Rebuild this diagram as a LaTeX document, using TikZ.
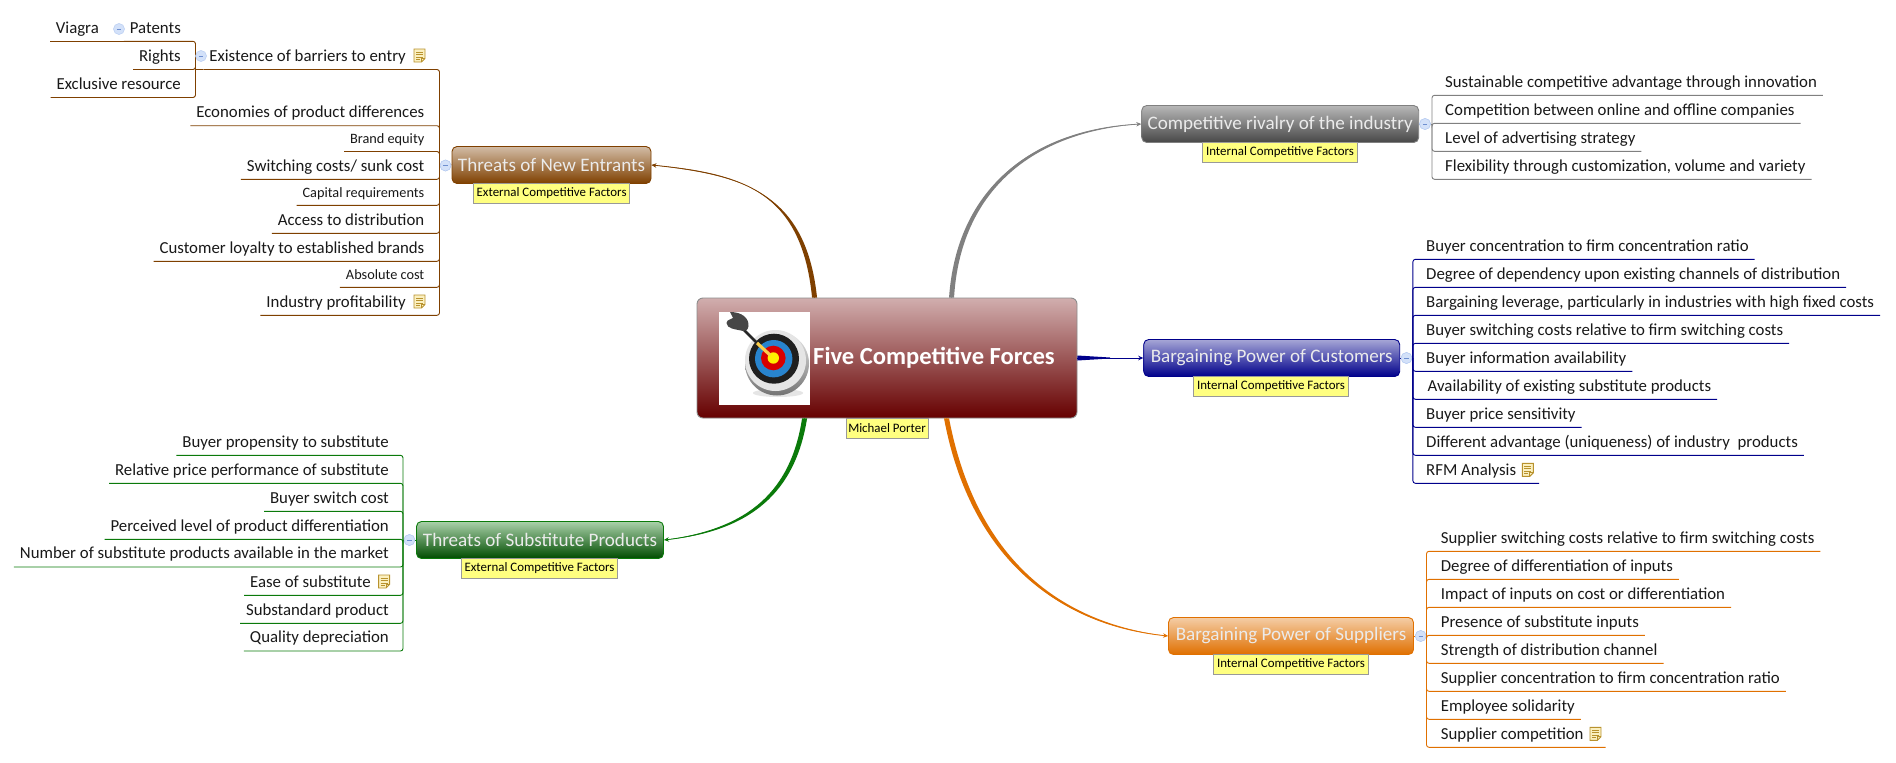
\documentclass[tikz,border=0pt]{standalone}
\usepackage{fontspec}
\setmainfont{Carlito}
\usetikzlibrary{calc,arrows.meta}
\definecolor{cbrown}{HTML}{7F4000}
\definecolor{cgreen}{HTML}{0A7A0A}
\definecolor{cgrey}{HTML}{808080}
\definecolor{cblue}{HTML}{00008B}
\definecolor{corange}{HTML}{E07000}
\definecolor{tagyellow}{HTML}{FFFF80}
\definecolor{coretop}{HTML}{D1AEAE}
\definecolor{corebot}{HTML}{660000}
\definecolor{minfill}{HTML}{D3E1F9}
\definecolor{mindraw}{HTML}{B7CCF2}
\definecolor{minbar}{HTML}{6E8FD0}
\definecolor{notefill}{HTML}{FBF0C0}
\definecolor{notedraw}{HTML}{B8922E}
\newcommand{\fs}[1]{\fontsize{#1}{#1}\selectfont}
\tikzset{
  item/.style={inner xsep=5.8pt,inner ysep=0pt,text height=14pt,text depth=7.9pt,font=\fs{16.8},text=black!90},
  smallitem/.style={font=\fs{14.3}},
  branchbox/.style={rounded corners=5pt,line width=0.9pt,text=white!92!black,font=\fs{19.1},inner sep=0pt},
  tag/.style={draw=black!40,line width=0.7pt,fill=tagyellow,text=black,font=\fs{12.9},inner sep=0pt},
  collapse/.style={circle,inner sep=0pt,minimum size=11pt,fill=minfill,draw=mindraw,line width=0.5pt,
    path picture={\draw[minbar,line width=0.7pt] ([xshift=-2.2pt]path picture bounding box.center) -- ([xshift=2.2pt]path picture bounding box.center);}},
  branchline/.style={line width=0.9pt,rounded corners=2.5pt},
  noteicon/.pic={
    \fill[notefill] (0,0) -- (11,0) -- (11,9.5) -- (7.5,13) -- (0,13) -- cycle;
    \draw[notedraw,line width=0.9pt] (0,0) -- (11,0) -- (11,9.5) -- (7.5,13) -- (0,13) -- cycle;
    \draw[notedraw,line width=0.8pt] (2,3) -- (9,3) (2,5.5) -- (9,5.5) (2,8) -- (9,8) (2,10.5) -- (6,10.5) (7.5,13) -- (7.5,9.5) -- (11,9.5);
  }
}
\newcommand{\itemL}[6][]{%
  \node[item,#1,anchor=south east] (#2) at (#3,#4) {#6};
  \draw[branchline,#5] (#2.south west) -| (hub);}
\newcommand{\itemR}[6][]{%
  \node[item,#1,anchor=south west] (#2) at (#3,#4) {#6};
  \draw[branchline,#5] (#2.south east) -| (hub);}
\begin{document}
\begin{tikzpicture}[x=1pt,y=-1pt]
\useasboundingbox (0,0) rectangle (1896,763);
\fill[white] (0,0) rectangle (1896,763);

% ---------- connectors' end nodes
\node[branchbox,draw=cbrown,top color=cbrown!35!white,bottom color=cbrown,minimum width=199pt,minimum height=37pt] (tn) at (551.5,165) {Threats of New Entrants};
\node[branchbox,draw=cgreen,top color=cgreen!35!white,bottom color=green!30!black,minimum width=247pt,minimum height=37pt] (ts) at (540,540) {Threats of Substitute Products};
\node[branchbox,draw=cgrey,top color=black!28,bottom color=black!72,minimum width=277pt,minimum height=37pt] (cr) at (1280.2,124) {Competitive rivalry of the industry};
\node[branchbox,draw=cblue,top color=cblue!35!white,bottom color=cblue,minimum width=256pt,minimum height=37pt] (bc) at (1271.7,358) {Bargaining Power of Customers};
\node[branchbox,draw=corange,top color=corange!35!white,bottom color=corange,minimum width=245pt,minimum height=37pt] (bs) at (1291,636) {Bargaining Power of Suppliers};

\node[draw=black!45,line width=0.9pt,rounded corners=6pt,top color=coretop,bottom color=corebot,minimum width=380pt,minimum height=120pt,inner sep=0pt] (core) at (887,358) {};
\coordinate (cnw) at ($(core.north west)+(118,0)$);
\coordinate (cne) at ($(core.north west)+(255,0)$);
\coordinate (csw) at ($(core.south west)+(108,0)$);
\coordinate (cse) at ($(core.south west)+(250,0)$);

% ---------- tapered main connectors
\fill[cbrown] ($(cnw)+(-2.5,0)$) .. controls (801.5,190) and (740,173) .. (tn.east) .. controls (741.5,175.5) and (805.5,190) .. ($(cnw)+(2.5,0)$) -- cycle;
\draw[cbrown,line width=0.8pt,-{Stealth[length=5pt,width=4.5pt]}] (cnw) .. controls (803,190) and (740,174) .. (tn.east);
\fill[cgrey] ($(cne)+(-2.5,0)$) .. controls (956.5,190) and (1030,129) .. (cr.west) .. controls (1031.5,131.5) and (960.5,191.5) .. ($(cne)+(2.5,0)$) -- cycle;
\draw[cgrey,line width=0.8pt,-{Stealth[length=5pt,width=4.5pt]}] (cne) .. controls (958,190) and (1030,130) .. (cr.west);
\fill[cgreen] ($(csw)+(-2.5,0)$) .. controls (791,490) and (750,529) .. (ts.east) .. controls (751.5,532) and (795.5,491.5) .. ($(csw)+(2.5,0)$) -- cycle;
\draw[cgreen,line width=0.8pt,-{Stealth[length=5pt,width=4.5pt]}] (csw) .. controls (793,490) and (750,530) .. (ts.east);
\fill[corange] ($(cse)+(-2.5,0)$) .. controls (970.5,560) and (1060,626) .. (bs.west) .. controls (1060,623.5) and (976,558.5) .. ($(cse)+(2.5,0)$) -- cycle;
\draw[corange,line width=0.8pt,-{Stealth[length=5pt,width=4.5pt]}] (cse) .. controls (973,560) and (1060,625) .. (bs.west);
\fill[cblue] ($(core.east)+(0,-2.5)$) -- (1110,357.5) -- (1110,358.5) -- ($(core.east)+(0,2.5)$) -- cycle;
\draw[cblue,line width=0.8pt,-{Stealth[length=5pt,width=4.5pt]}] (core.east) -- (bc.west);

% ---------- central topic
\node[draw=none,fill=white,minimum width=91pt,minimum height=93pt,inner sep=0pt] (img) at (764.5,358.5) {};
\fill[black!10] (778,393) ellipse (25 and 4);
\shade[top color=black!8,bottom color=black!55] (777,363.5) circle (32);
\fill[black!10] (775.5,360.5) circle (30.5);
\fill[black!88] (774,358.7) circle (25);
\fill[cyan!60!blue!90] (773.7,358.7) circle (18.7);
\fill[red!85!black] (773.3,358) circle (12.3);
\fill[yellow] (773.3,358) circle (5.7);
\draw[black!85,line width=2.8pt] (743,329) -- (757,343);
\draw[yellow!50!orange!70!white,line width=3.2pt] (757,343) -- (770,355);
\fill[black!72] (730,312) .. controls (742,312) and (749,318) .. (748.5,326) .. controls (748,330) and (746,331) .. (743,331) .. controls (735,329) and (727,329) .. (726.5,323) .. controls (727,319) and (731,320) .. (733,318) -- cycle;
\node[text=white,font=\fs{24.6}\bfseries,inner sep=0pt,anchor=west] (title) at (813,358) {Five Competitive Forces};
\node[tag,minimum width=82pt,minimum height=19.5pt] (tagcore) at (887,428.5) {Michael Porter};

% ---------- tags
\node[tag,minimum width=155.8pt,minimum height=20pt] (tag1) at (551.6,193.5) {External Competitive Factors};
\node[tag,minimum width=155.8pt,minimum height=20pt] (tag2) at (539.5,568.3) {External Competitive Factors};
\node[tag,minimum width=155.3pt,minimum height=20pt] (tag3) at (1280,152.3) {Internal Competitive Factors};
\node[tag,minimum width=155pt,minimum height=20pt] (tag4) at (1271,386.3) {Internal Competitive Factors};
\node[tag,minimum width=155pt,minimum height=20pt] (tag5) at (1291,664.3) {Internal Competitive Factors};

% ---------- Threats of New Entrants
\coordinate (hub) at (439.5,165.5);
\node[collapse] (m1) at (445.5,165.5) {};
\draw[cbrown,line width=0.9pt] (hub) -- (m1) -- (tn.west);
\node[collapse] at (445.5,165.5) {};
\itemL{ex}{411.8}{69.5}{cbrown}{Existence of barriers to entry}
\itemL{ec}{430.3}{125.7}{cbrown}{Economies of product differences}
\itemL[smallitem]{be}{430.3}{151.5}{cbrown}{Brand equity}
\itemL{sw}{430.3}{179.3}{cbrown}{Switching costs/ sunk cost}
\itemL[smallitem]{ca}{430.3}{205.3}{cbrown}{Capital requirements}
\itemL{ac}{430.3}{233.3}{cbrown}{Access to distribution}
\itemL{cu}{430.3}{261.3}{cbrown}{Customer loyalty to established brands}
\itemL[smallitem]{ab}{430.3}{287.3}{cbrown}{Absolute cost}
\itemL{ip}{411.8}{315.3}{cbrown}{Industry profitability}
\pic at (414,49) {noteicon};
\pic at (414,295) {noteicon};
% sub-branch: barriers
\coordinate (hub) at (195.5,56);
\draw[cbrown,line width=0.9pt] (ex.south west) -- (ex.south west -| hub);
\itemL{ra}{186.8}{69.5}{cbrown}{Rights}
\itemL{er}{186.8}{97.5}{cbrown}{Exclusive resource}
\itemL{pa}{186.8}{41.3}{cbrown}{Patents}
\node[collapse] (m2) at (201,56) {};
\coordinate (hub) at (pa.south west);
\node[collapse] (m3) at (119,29) {};
\node[item,anchor=south east] (vi) at (104.8,41.3) {Viagra};
\coordinate (viend) at (50,41.3);
\draw[cbrown,line width=0.9pt] (hub) -- (viend);

% ---------- Threats of Substitute Products
\coordinate (hub) at (403,540);
\node[collapse] (m4) at (409.4,540) {};
\draw[cgreen,line width=0.9pt] (hub) -- (m4) -- (ts.west);
\node[collapse] at (409.4,540) {};
\itemL{s1}{394.8}{455.3}{cgreen}{Buyer propensity to substitute}
\itemL{s2}{394.8}{483.3}{cgreen}{Relative price performance of substitute}
\itemL{s3}{394.8}{511.3}{cgreen}{Buyer switch cost}
\itemL{s4}{394.8}{539.3}{cgreen}{Perceived level of product differentiation}
\itemL{s5}{394.8}{567}{cgreen}{Number of substitute products available in the market}
\itemL{s6}{376.8}{595.3}{cgreen}{Ease of substitute}
\itemL{s7}{394.8}{623.3}{cgreen}{Substandard product}
\itemL{s8}{394.8}{651}{cgreen}{Quality depreciation}
\pic at (378.6,575) {noteicon};

% ---------- Competitive rivalry
\coordinate (hub) at (1432,124);
\node[collapse] (m5) at (1425,124) {};
\draw[cgrey,line width=0.9pt] (cr.east) -- (m5) -- (hub);
\node[collapse] at (1425,124) {};
\itemR{c1}{1439.2}{95.3}{cgrey}{Sustainable competitive advantage through innovation}
\itemR{c2}{1439.2}{123.3}{cgrey}{Competition between online and offline companies}
\itemR{c3}{1439.2}{151.3}{cgrey}{Level of advertising strategy}
\itemR{c4}{1439.2}{179.3}{cgrey}{Flexibility through customization, volume and variety}

% ---------- Bargaining Power of Customers
\coordinate (hub) at (1412.9,358);
\node[collapse] (m6) at (1406.5,358) {};
\draw[cblue,line width=0.9pt] (bc.east) -- (m6) -- (hub);
\node[collapse] at (1406.5,358) {};
\itemR{b1}{1420.2}{259.3}{cblue}{Buyer concentration to firm concentration ratio}
\itemR{b2}{1420.2}{287.3}{cblue}{Degree of dependency upon existing channels of distribution}
\itemR{b3}{1420.2}{315.3}{cblue}{Bargaining leverage, particularly in industries with high fixed costs}
\itemR{b4}{1420.2}{343.3}{cblue}{Buyer switching costs relative to firm switching costs}
\itemR{b5}{1420.2}{371.3}{cblue}{Buyer information availability}
\itemR{b6}{1421.7}{399.3}{cblue}{Availability of existing substitute products}
\itemR{b7}{1420.2}{427.3}{cblue}{Buyer price sensitivity}
\itemR{b8}{1420.2}{455.3}{cblue}{Different advantage (uniqueness) of industry\ \ products}
\itemR{b9}{1420.2}{483.3}{cblue}{RFM Analysis\hspace*{17pt}}
\pic at (1522.3,463.3) {noteicon};

% ---------- Bargaining Power of Suppliers
\coordinate (hub) at (1426.5,636);
\node[collapse] (m7) at (1420.7,636) {};
\draw[corange,line width=0.9pt] (bs.east) -- (m7) -- (hub);
\node[collapse] at (1420.7,636) {};
\itemR{o1}{1434.9}{551.3}{corange}{Supplier switching costs relative to firm switching costs}
\itemR{o2}{1434.9}{579.3}{corange}{Degree of differentiation of inputs}
\itemR{o3}{1434.9}{607.3}{corange}{Impact of inputs on cost or differentiation}
\itemR{o4}{1434.9}{635.3}{corange}{Presence of substitute inputs}
\itemR{o5}{1434.9}{663.3}{corange}{Strength of distribution channel}
\itemR{o6}{1434.9}{691.3}{corange}{Supplier concentration to firm concentration ratio}
\itemR{o7}{1434.9}{719.3}{corange}{Employee solidarity}
\itemR{o8}{1434.9}{747.3}{corange}{Supplier competition\hspace*{16pt}}
\pic at (1590,727.3) {noteicon};
\end{tikzpicture}
\end{document}
